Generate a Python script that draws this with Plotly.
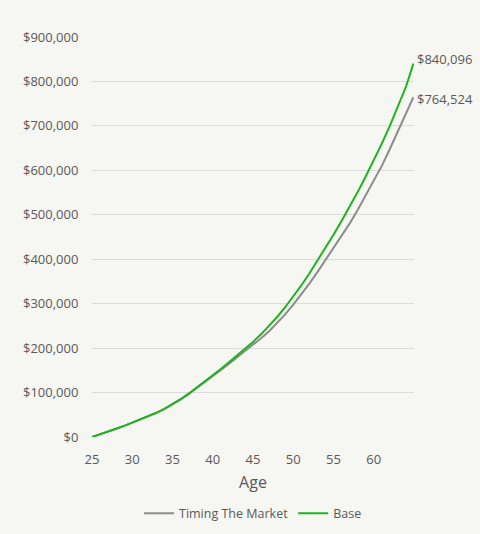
import plotly.graph_objects as go

ages = [25, 26, 27, 28, 29, 30, 31, 32, 33, 34, 35, 36, 37, 38, 39, 40, 41, 42, 43, 44,
        45, 46, 47, 48, 49, 50, 51, 52, 53, 54, 55, 56, 57, 58, 59, 60, 61, 62, 63, 64, 64.92]

base = [0, 5800, 12000, 18500, 25000, 32000, 39000, 46500, 54500, 63500, 73500, 85000,
        97500, 111000, 125000, 139000, 153000, 168000, 183000, 198000, 214000, 231000,
        250000, 270000, 292000, 316000, 341000, 368000, 396000, 425000, 455000, 486000,
        518000, 551000, 586000, 622000, 660000, 700000, 742000, 788000, 840096]

timing = [0, 5800, 12000, 18500, 25000, 32000, 39000, 46500, 54300, 63200, 73000, 84300,
          96500, 109800, 123500, 137000, 150500, 164500, 179000, 193000, 207000, 222000,
          238000, 256000, 276000, 298000, 321000, 345000, 371000, 398000, 425000, 452000,
          480000, 511000, 543000, 576000, 610000, 648000, 688000, 728000, 764524]

x_ticks = [25, 30, 35, 40, 45, 50, 55, 60]
y_ticks = [0, 100000, 200000, 300000, 400000, 500000, 600000, 700000, 800000, 900000]

font = "Open Sans"
txt = "#595959"
bg = "#f6f6f3"

fig = go.Figure()
fig.add_trace(go.Scatter(x=ages, y=timing, mode="lines", name="Timing The Market",
                         line=dict(color="#8c8c8c", width=2)))
fig.add_trace(go.Scatter(x=ages, y=base, mode="lines", name="Base",
                         line=dict(color="#1db41d", width=2)))

# end-of-line value labels
for yv, shift in [(base[-1], 5), (timing[-1], -2)]:
    fig.add_annotation(x=ages[-1], y=yv, text=f"${yv:,.0f}", showarrow=False,
                       xanchor="left", xshift=2, yshift=shift, font=dict(size=13, color=txt))

fig.update_layout(
    width=480, height=534,
    paper_bgcolor=bg, plot_bgcolor=bg,
    font=dict(family=font, color=txt, size=13),
    margin=dict(l=92, r=66, t=37, b=97, autoexpand=False),
    showlegend=True,
    legend=dict(orientation="h", x=0.5, xanchor="center", yref="container",
                y=0.038, yanchor="middle", font=dict(size=12.5, color=txt), itemwidth=30),
    xaxis=dict(range=[25, 65], tickvals=x_ticks, showgrid=False, zeroline=False,
               showline=False, ticks="outside", ticklen=10, tickcolor=bg, automargin=False,
               title=dict(text="Age", font=dict(size=16), standoff=10),
               tickfont=dict(size=13)),
    yaxis=dict(range=[0, 900000], tickvals=y_ticks, tickformat="$,.0f", automargin=False,
               showgrid=True, gridcolor="#dcdcdc", gridwidth=1, zeroline=False,
               ticks="outside", ticklen=10, tickcolor=bg, tickfont=dict(size=13)),
)

fig.write_html("out.html", config={"displayModeBar": False},
               post_script="document.body.style.margin='0';")
